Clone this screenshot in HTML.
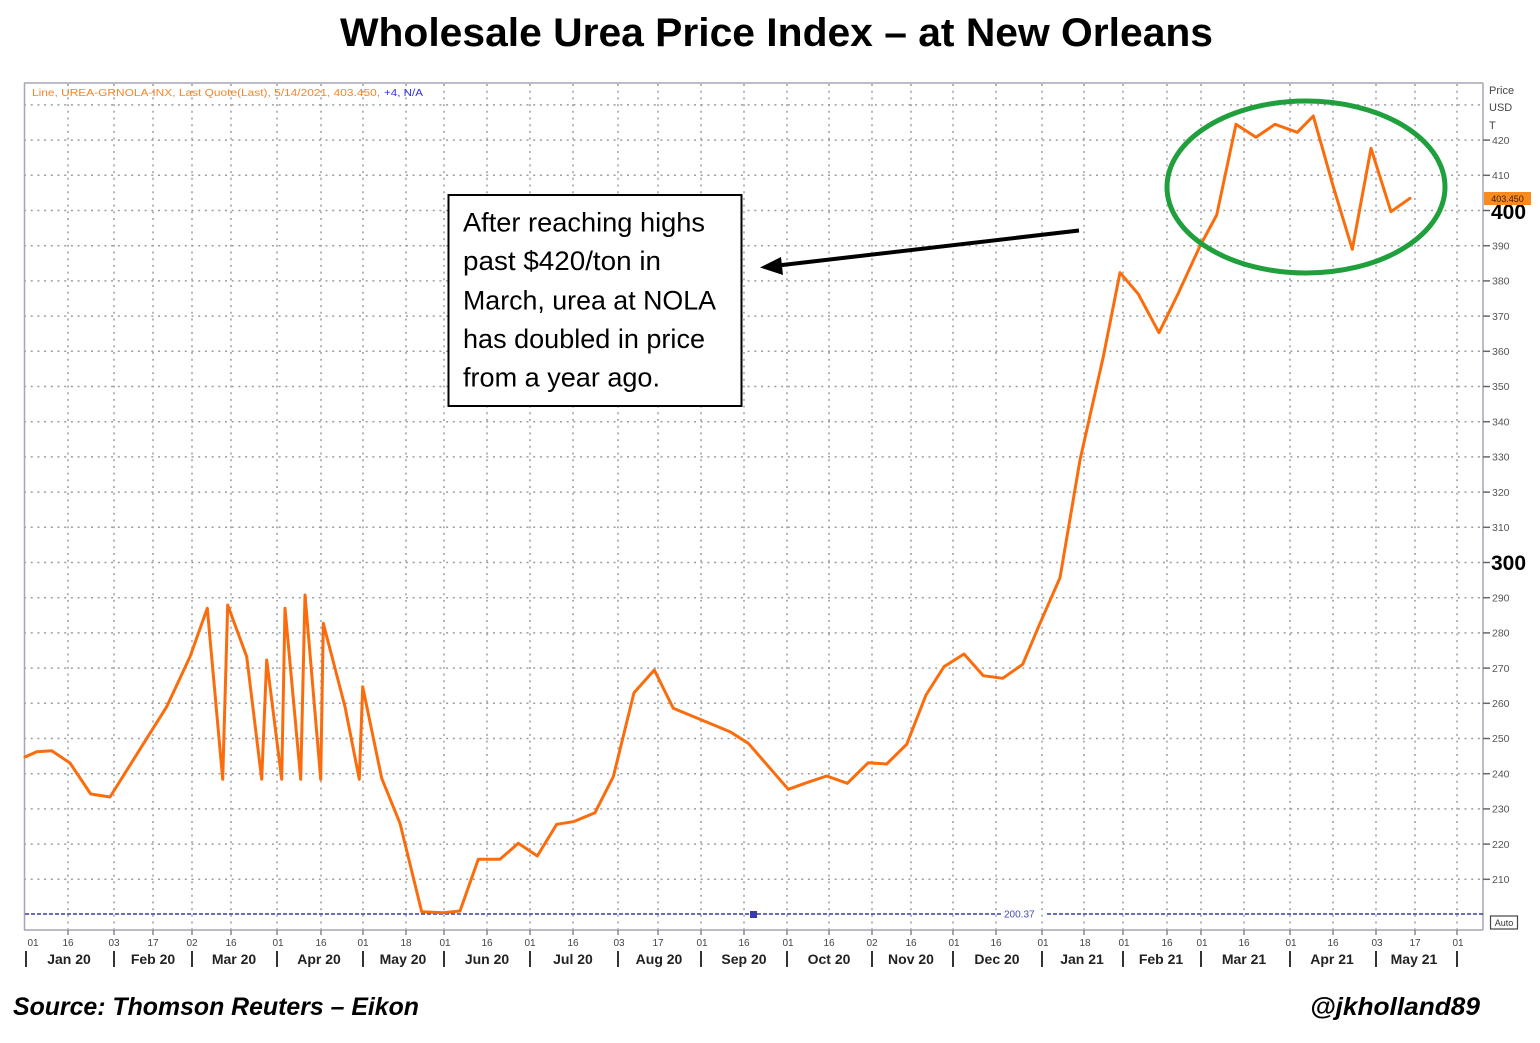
<!DOCTYPE html>
<html>
<head>
<meta charset="utf-8">
<style>
  html,body{margin:0;padding:0;background:#fff;}
  svg{display:block;}
  text{font-family:"Liberation Sans", sans-serif;}
</style>
</head>
<body>
<svg width="1540" height="1043" viewBox="0 0 1540 1043" xmlns="http://www.w3.org/2000/svg">
  <rect x="0" y="0" width="1540" height="1043" fill="#fff"/>

  <!-- Title -->
  <text x="340" y="46" font-size="40" font-weight="bold" fill="#000" textLength="873" lengthAdjust="spacingAndGlyphs">Wholesale Urea Price Index – at New Orleans</text>

  <!-- Horizontal dotted grid -->
  <g stroke="#9c9ca6" stroke-width="1.5" stroke-dasharray="2 4.7" fill="none">
    <line x1="24" y1="104.9" x2="1483" y2="104.9"/>
    <line x1="24" y1="140.1" x2="1483" y2="140.1"/>
    <line x1="24" y1="175.3" x2="1483" y2="175.3"/>
    <line x1="24" y1="210.5" x2="1483" y2="210.5"/>
    <line x1="24" y1="245.7" x2="1483" y2="245.7"/>
    <line x1="24" y1="280.9" x2="1483" y2="280.9"/>
    <line x1="24" y1="316.1" x2="1483" y2="316.1"/>
    <line x1="24" y1="351.3" x2="1483" y2="351.3"/>
    <line x1="24" y1="386.5" x2="1483" y2="386.5"/>
    <line x1="24" y1="421.7" x2="1483" y2="421.7"/>
    <line x1="24" y1="456.9" x2="1483" y2="456.9"/>
    <line x1="24" y1="492.1" x2="1483" y2="492.1"/>
    <line x1="24" y1="527.3" x2="1483" y2="527.3"/>
    <line x1="24" y1="562.5" x2="1483" y2="562.5"/>
    <line x1="24" y1="597.7" x2="1483" y2="597.7"/>
    <line x1="24" y1="632.9" x2="1483" y2="632.9"/>
    <line x1="24" y1="668.1" x2="1483" y2="668.1"/>
    <line x1="24" y1="703.3" x2="1483" y2="703.3"/>
    <line x1="24" y1="738.5" x2="1483" y2="738.5"/>
    <line x1="24" y1="773.7" x2="1483" y2="773.7"/>
    <line x1="24" y1="808.9" x2="1483" y2="808.9"/>
    <line x1="24" y1="844.1" x2="1483" y2="844.1"/>
    <line x1="24" y1="879.3" x2="1483" y2="879.3"/>
  </g>

  <!-- Vertical dotted grid -->
  <g stroke="#9c9ca6" stroke-width="1.5" stroke-dasharray="2 4.7" fill="none">
    <line x1="68" y1="84" x2="68" y2="930"/>
    <line x1="114" y1="84" x2="114" y2="930"/>
    <line x1="153" y1="84" x2="153" y2="930"/>
    <line x1="192" y1="84" x2="192" y2="930"/>
    <line x1="231" y1="84" x2="231" y2="930"/>
    <line x1="277" y1="84" x2="277" y2="930"/>
    <line x1="321" y1="84" x2="321" y2="930"/>
    <line x1="363" y1="84" x2="363" y2="930"/>
    <line x1="406" y1="84" x2="406" y2="930"/>
    <line x1="444" y1="84" x2="444" y2="930"/>
    <line x1="487" y1="84" x2="487" y2="930"/>
    <line x1="530" y1="84" x2="530" y2="930"/>
    <line x1="573" y1="84" x2="573" y2="930"/>
    <line x1="618" y1="84" x2="618" y2="930"/>
    <line x1="658" y1="84" x2="658" y2="930"/>
    <line x1="701" y1="84" x2="701" y2="930"/>
    <line x1="744" y1="84" x2="744" y2="930"/>
    <line x1="787" y1="84" x2="787" y2="930"/>
    <line x1="829" y1="84" x2="829" y2="930"/>
    <line x1="872" y1="84" x2="872" y2="930"/>
    <line x1="911" y1="84" x2="911" y2="930"/>
    <line x1="953" y1="84" x2="953" y2="930"/>
    <line x1="996" y1="84" x2="996" y2="930"/>
    <line x1="1042" y1="84" x2="1042" y2="930"/>
    <line x1="1084" y1="84" x2="1084" y2="930"/>
    <line x1="1123" y1="84" x2="1123" y2="930"/>
    <line x1="1167" y1="84" x2="1167" y2="930"/>
    <line x1="1201" y1="84" x2="1201" y2="930"/>
    <line x1="1244" y1="84" x2="1244" y2="930"/>
    <line x1="1290" y1="84" x2="1290" y2="930"/>
    <line x1="1333" y1="84" x2="1333" y2="930"/>
    <line x1="1376" y1="84" x2="1376" y2="930"/>
    <line x1="1415" y1="84" x2="1415" y2="930"/>
    <line x1="1457" y1="84" x2="1457" y2="930"/>
  </g>

  <!-- Frame -->
  <g stroke="#a6a6b6" stroke-width="1.5" fill="none">
    <line x1="24" y1="83" x2="1483" y2="83"/>
    <line x1="24" y1="930" x2="1483" y2="930"/>
    <line x1="24.5" y1="83" x2="24.5" y2="930"/>
    <line x1="1483" y1="83" x2="1483" y2="930"/>
  </g>

  <!-- Legend -->
  <text x="32" y="96" font-size="10" fill="#f7862a" textLength="348" lengthAdjust="spacingAndGlyphs">Line, UREA-GRNOLA-INX, Last Quote(Last), 5/14/2021, 403.450,</text>
  <text x="384" y="96" font-size="10" fill="#3030e0" textLength="39" lengthAdjust="spacingAndGlyphs">+4, N/A</text>

  <!-- Blue reference line -->
  <g stroke="#3a3aae" stroke-width="1.6" stroke-dasharray="4 2" fill="none">
    <line x1="25" y1="914" x2="1002" y2="914"/>
    <line x1="1047" y1="914" x2="1483" y2="914"/>
  </g>
  <rect x="750" y="911" width="7" height="7" fill="#3a3aae"/>
  <text x="1004" y="917.5" font-size="10" fill="#4a4ab8">200.37</text>

  <!-- Auto box -->
  <rect x="1490.5" y="916" width="27" height="13" fill="#fff" stroke="#444" stroke-width="1.2"/>
  <text x="1504" y="926" font-size="9" fill="#333" text-anchor="middle">Auto</text>

  <!-- Right axis labels -->
  <g font-size="11" fill="#444">
    <text x="1489" y="94">Price</text>
    <text x="1489" y="111">USD</text>
    <text x="1489" y="129">T</text>
  </g>
  <g stroke="#666" stroke-width="1.5">
    <line x1="1483" y1="140.1" x2="1490" y2="140.1"/>
    <line x1="1483" y1="175.3" x2="1490" y2="175.3"/>
    <line x1="1483" y1="210.5" x2="1490" y2="210.5"/>
    <line x1="1483" y1="245.7" x2="1490" y2="245.7"/>
    <line x1="1483" y1="280.9" x2="1490" y2="280.9"/>
    <line x1="1483" y1="316.1" x2="1490" y2="316.1"/>
    <line x1="1483" y1="351.3" x2="1490" y2="351.3"/>
    <line x1="1483" y1="386.5" x2="1490" y2="386.5"/>
    <line x1="1483" y1="421.7" x2="1490" y2="421.7"/>
    <line x1="1483" y1="456.9" x2="1490" y2="456.9"/>
    <line x1="1483" y1="492.1" x2="1490" y2="492.1"/>
    <line x1="1483" y1="527.3" x2="1490" y2="527.3"/>
    <line x1="1483" y1="562.5" x2="1490" y2="562.5"/>
    <line x1="1483" y1="597.7" x2="1490" y2="597.7"/>
    <line x1="1483" y1="632.9" x2="1490" y2="632.9"/>
    <line x1="1483" y1="668.1" x2="1490" y2="668.1"/>
    <line x1="1483" y1="703.3" x2="1490" y2="703.3"/>
    <line x1="1483" y1="738.5" x2="1490" y2="738.5"/>
    <line x1="1483" y1="773.7" x2="1490" y2="773.7"/>
    <line x1="1483" y1="808.9" x2="1490" y2="808.9"/>
    <line x1="1483" y1="844.1" x2="1490" y2="844.1"/>
    <line x1="1483" y1="879.3" x2="1490" y2="879.3"/>
  </g>
  <g font-size="10.5" fill="#555">
    <text x="1492" y="144">420</text>
    <text x="1492" y="179">410</text>
    <text x="1492" y="249.5">390</text>
    <text x="1492" y="284.5">380</text>
    <text x="1492" y="320">370</text>
    <text x="1492" y="355">360</text>
    <text x="1492" y="390">350</text>
    <text x="1492" y="425.5">340</text>
    <text x="1492" y="460.5">330</text>
    <text x="1492" y="496">320</text>
    <text x="1492" y="531">310</text>
    <text x="1492" y="601.5">290</text>
    <text x="1492" y="636.5">280</text>
    <text x="1492" y="672">270</text>
    <text x="1492" y="707">260</text>
    <text x="1492" y="742">250</text>
    <text x="1492" y="777.5">240</text>
    <text x="1492" y="812.5">230</text>
    <text x="1492" y="848">220</text>
    <text x="1492" y="883">210</text>
  </g>
  <text x="1491" y="219" font-size="21" font-weight="bold" fill="#000">400</text>
  <text x="1491" y="570" font-size="21" font-weight="bold" fill="#000">300</text>
  <rect x="1484" y="192" width="47" height="13" fill="#f98a1e"/>
  <text x="1507.5" y="202" font-size="9" fill="#3a2000" text-anchor="middle">403.450</text>

  <!-- Bottom axis tick marks -->
  <g stroke="#888" stroke-width="1.5">
    <line x1="68" y1="930" x2="68" y2="935"/>
    <line x1="114" y1="930" x2="114" y2="935"/>
    <line x1="153" y1="930" x2="153" y2="935"/>
    <line x1="192" y1="930" x2="192" y2="935"/>
    <line x1="231" y1="930" x2="231" y2="935"/>
    <line x1="277" y1="930" x2="277" y2="935"/>
    <line x1="321" y1="930" x2="321" y2="935"/>
    <line x1="363" y1="930" x2="363" y2="935"/>
    <line x1="406" y1="930" x2="406" y2="935"/>
    <line x1="444" y1="930" x2="444" y2="935"/>
    <line x1="487" y1="930" x2="487" y2="935"/>
    <line x1="530" y1="930" x2="530" y2="935"/>
    <line x1="573" y1="930" x2="573" y2="935"/>
    <line x1="618" y1="930" x2="618" y2="935"/>
    <line x1="658" y1="930" x2="658" y2="935"/>
    <line x1="701" y1="930" x2="701" y2="935"/>
    <line x1="744" y1="930" x2="744" y2="935"/>
    <line x1="787" y1="930" x2="787" y2="935"/>
    <line x1="829" y1="930" x2="829" y2="935"/>
    <line x1="872" y1="930" x2="872" y2="935"/>
    <line x1="911" y1="930" x2="911" y2="935"/>
    <line x1="953" y1="930" x2="953" y2="935"/>
    <line x1="996" y1="930" x2="996" y2="935"/>
    <line x1="1042" y1="930" x2="1042" y2="935"/>
    <line x1="1084" y1="930" x2="1084" y2="935"/>
    <line x1="1123" y1="930" x2="1123" y2="935"/>
    <line x1="1167" y1="930" x2="1167" y2="935"/>
    <line x1="1201" y1="930" x2="1201" y2="935"/>
    <line x1="1244" y1="930" x2="1244" y2="935"/>
    <line x1="1290" y1="930" x2="1290" y2="935"/>
    <line x1="1333" y1="930" x2="1333" y2="935"/>
    <line x1="1376" y1="930" x2="1376" y2="935"/>
    <line x1="1415" y1="930" x2="1415" y2="935"/>
    <line x1="1457" y1="930" x2="1457" y2="935"/>
  </g>

  <!-- Bottom day labels -->
  <g font-size="10" fill="#444" text-anchor="middle">
    <text x="33" y="946">01</text>
    <text x="68" y="946">16</text>
    <text x="114" y="946">03</text>
    <text x="153" y="946">17</text>
    <text x="192" y="946">02</text>
    <text x="231" y="946">16</text>
    <text x="278" y="946">01</text>
    <text x="321" y="946">16</text>
    <text x="363" y="946">01</text>
    <text x="406" y="946">18</text>
    <text x="445" y="946">01</text>
    <text x="487" y="946">16</text>
    <text x="530" y="946">01</text>
    <text x="573" y="946">16</text>
    <text x="619" y="946">03</text>
    <text x="658" y="946">17</text>
    <text x="702" y="946">01</text>
    <text x="744" y="946">16</text>
    <text x="788" y="946">01</text>
    <text x="829" y="946">16</text>
    <text x="872" y="946">02</text>
    <text x="911" y="946">16</text>
    <text x="954" y="946">01</text>
    <text x="996" y="946">16</text>
    <text x="1043" y="946">01</text>
    <text x="1085" y="946">18</text>
    <text x="1124" y="946">01</text>
    <text x="1167" y="946">16</text>
    <text x="1202" y="946">01</text>
    <text x="1244" y="946">16</text>
    <text x="1291" y="946">01</text>
    <text x="1333" y="946">16</text>
    <text x="1377" y="946">03</text>
    <text x="1415" y="946">17</text>
    <text x="1458" y="946">01</text>
  </g>

  <!-- Month separators -->
  <g stroke="#333" stroke-width="2">
    <line x1="26" y1="951" x2="26" y2="967"/>
    <line x1="114" y1="951" x2="114" y2="967"/>
    <line x1="192" y1="951" x2="192" y2="967"/>
    <line x1="277" y1="951" x2="277" y2="967"/>
    <line x1="363" y1="951" x2="363" y2="967"/>
    <line x1="444" y1="951" x2="444" y2="967"/>
    <line x1="530" y1="951" x2="530" y2="967"/>
    <line x1="618" y1="951" x2="618" y2="967"/>
    <line x1="701" y1="951" x2="701" y2="967"/>
    <line x1="787" y1="951" x2="787" y2="967"/>
    <line x1="872" y1="951" x2="872" y2="967"/>
    <line x1="953" y1="951" x2="953" y2="967"/>
    <line x1="1042" y1="951" x2="1042" y2="967"/>
    <line x1="1123" y1="951" x2="1123" y2="967"/>
    <line x1="1201" y1="951" x2="1201" y2="967"/>
    <line x1="1290" y1="951" x2="1290" y2="967"/>
    <line x1="1376" y1="951" x2="1376" y2="967"/>
    <line x1="1457" y1="951" x2="1457" y2="967"/>
  </g>

  <!-- Month labels -->
  <g font-size="14" font-weight="bold" fill="#222" text-anchor="middle">
    <text x="69" y="964">Jan 20</text>
    <text x="153" y="964">Feb 20</text>
    <text x="234" y="964">Mar 20</text>
    <text x="319" y="964">Apr 20</text>
    <text x="403" y="964">May 20</text>
    <text x="487" y="964">Jun 20</text>
    <text x="573" y="964">Jul 20</text>
    <text x="659" y="964">Aug 20</text>
    <text x="744" y="964">Sep 20</text>
    <text x="829" y="964">Oct 20</text>
    <text x="911" y="964">Nov 20</text>
    <text x="997" y="964">Dec 20</text>
    <text x="1082" y="964">Jan 21</text>
    <text x="1161" y="964">Feb 21</text>
    <text x="1244" y="964">Mar 21</text>
    <text x="1332" y="964">Apr 21</text>
    <text x="1414" y="964">May 21</text>
  </g>

  <!-- Orange price line -->
  <polyline fill="none" stroke="#fb6d0c" stroke-width="3" stroke-linejoin="round" stroke-linecap="round"
    points="25,757 36.7,751.7 51.7,750.7 70,763 90.7,794 110,797 166.7,706.7 190,656.7 207.3,608.3 222.7,779.3 227.7,605 246.7,656.7 261.7,779.3 266.7,660 281.7,779.3 285,608.3 300.7,779.3 305,595 320.7,779.3 323.3,623.3 345,706.7 359.3,779.3 362.7,686.7 381.7,778.3 400,823.3 421.7,911.7 443.3,912.7 460,911 478.3,859.3 500,859.3 518.3,843.3 537.3,856 556.7,824.3 573.3,821.7 595,812.7 613.3,776.7 634,692.7 654.3,670 673.3,708.3 701.7,720 730,731.7 748.3,743.3 788.3,789.3 806.7,782.7 826.7,776 847.3,783.3 868.3,762.7 886.7,764 906.7,744.3 926,695 944,666.7 964,654 983.3,675.7 1002.7,678.3 1022.7,664.3 1040,623.3 1060,577.7 1080,460 1103.3,356.7 1120,272.7 1138.3,294 1159,332.7 1178.3,293.3 1200,246 1216.7,215 1236,124.3 1256,137.3 1275,124.3 1297.3,132.3 1313.3,116 1333.3,186.7 1352.3,249.3 1371,148.3 1391,211.7 1410,198.3"/>

  <!-- Green ellipse -->
  <ellipse cx="1306" cy="187" rx="139" ry="86" fill="none" stroke="#20a03c" stroke-width="5"/>

  <!-- Annotation box -->
  <rect x="448.5" y="195" width="293" height="211" fill="#fff" stroke="#000" stroke-width="2"/>
  <g font-size="27" fill="#000">
    <text x="463" y="231.5" textLength="242" lengthAdjust="spacingAndGlyphs">After reaching highs</text>
    <text x="463" y="270" textLength="198" lengthAdjust="spacingAndGlyphs">past $420/ton in</text>
    <text x="463" y="309.5" textLength="253" lengthAdjust="spacingAndGlyphs">March, urea at NOLA</text>
    <text x="463" y="348" textLength="242" lengthAdjust="spacingAndGlyphs">has doubled in price</text>
    <text x="463" y="386.5" textLength="197" lengthAdjust="spacingAndGlyphs">from a year ago.</text>
  </g>

  <!-- Arrow -->
  <line x1="1079" y1="230.5" x2="778" y2="265.5" stroke="#000" stroke-width="4"/>
  <polygon points="760,267.5 781,257 783,275" fill="#000"/>

  <!-- Footer -->
  <text x="13" y="1015" font-size="25" font-weight="bold" font-style="italic" fill="#000" textLength="406" lengthAdjust="spacingAndGlyphs">Source: Thomson Reuters – Eikon</text>
  <text x="1310" y="1015" font-size="25" font-weight="bold" font-style="italic" fill="#000" textLength="170" lengthAdjust="spacingAndGlyphs">@jkholland89</text>
</svg>
</body>
</html>
